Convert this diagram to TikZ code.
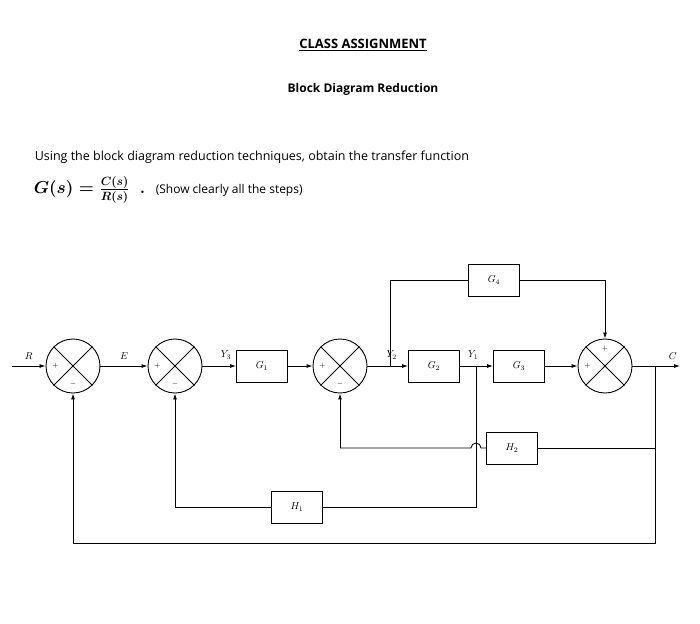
\documentclass[tikz,border=0pt]{standalone}
\usepackage{amsmath}
\usepackage{fontspec}
\newfontfamily\hand{Open Sans}
\usetikzlibrary{arrows.meta}
\begin{document}
\begin{tikzpicture}[x=1pt,y=-1pt,line width=0.9pt,
  sig/.style={-{Latex[length=6pt,width=4pt]}},
  blk/.style={draw,minimum width=51pt,minimum height=32pt,inner sep=0pt},
  sumj/.style={draw,circle,minimum size=54pt,inner sep=0pt},
  lab/.style={font=\normalsize}]
\useasboundingbox (0,0) rectangle (700,623);
\node[font=\hand\bfseries\fontsize{13}{15}\selectfont] (t1) at (363,45) {\underline{CLASS ASSIGNMENT}};
\node[font=\hand\bfseries\fontsize{12}{14}\selectfont] (t2) at (363,89) {Block Diagram Reduction};
\node[font=\hand\fontsize{12.5}{15}\selectfont,anchor=west] (t3) at (31,157) {Using the block diagram reduction techniques, obtain the transfer function};
\node[anchor=west] (t4) at (30,190) {\LARGE$\boldsymbol{G(s)=\frac{C(s)}{R(s)}}$\ \ \textbf{.}\ \ {\hand\fontsize{12}{14}\selectfont(Show clearly all the steps)}};
% summing junctions
\foreach \n/\x in {s1/73,s2/175,s3/340,s4/605}{
  \node[sumj] (\n) at (\x,366) {};
  \draw (\n.45) -- (\n.225) (\n.135) -- (\n.315);
}
\foreach \n in {s1,s2,s3}{
  \node[font=\scriptsize] at ([xshift=10pt]\n.west) {$+$};
  \node[font=\scriptsize] at ([yshift=10pt]\n.south) {$-$};
}
\node[font=\scriptsize] at ([xshift=10pt]s4.west) {$+$};
\node[font=\scriptsize] at ([yshift=-10pt]s4.north) {$+$};
% blocks
\node[blk] (g1) at (262,366) {$G_1$};
\node[blk] (g2) at (434,366) {$G_2$};
\node[blk] (g3) at (519,366) {$G_3$};
\node[blk] (g4) at (494,280) {$G_4$};
\node[blk] (h2) at (512,448) {$H_2$};
\node[blk] (h1) at (297,507) {$H_1$};
\coordinate (in) at (12,366);
\coordinate (out) at (680,366);
\coordinate (y2) at (390,366);
\coordinate (y1) at (476,366);
\coordinate (cb) at (655,366);
% forward path
\draw[sig] (in) -- node[above=3pt,lab]{$R$} (s1);
\draw[sig] (s1) -- node[above=3pt,lab]{$E$} (s2);
\draw[sig] (s2) -- node[above=3pt,pos=0.7,lab]{$Y_3$} (g1);
\draw[sig] (g1) -- (s3);
\draw[sig] (s3) -- node[above=3pt,pos=0.6,lab]{$Y_2$} (g2);
\draw[sig] (g2) -- node[above=3pt,pos=0.4,lab]{$Y_1$} (g3);
\draw[sig] (g3) -- (s4);
\draw[sig] (s4) -- node[above=3pt,pos=0.85,lab]{$C$} (out);
% G4 feedforward
\draw (y2) |- (g4.west);
\draw[sig] (g4.east) -| (s4.north);
% H2 loop with jump
\draw (cb) |- (h2.east);
\draw (h2.west) -- (481,448) arc[start angle=0,end angle=-180,radius=5] -- (340,448);
\draw[sig] (340,448) -- (s3.south);
% H1 loop
\draw (y1) |- (h1.east);
\draw[sig] (h1.west) -| (s2.south);
% unity feedback
\draw[sig] (cb) |- (73,543) -- (s1.south);
\end{tikzpicture}
\end{document}
